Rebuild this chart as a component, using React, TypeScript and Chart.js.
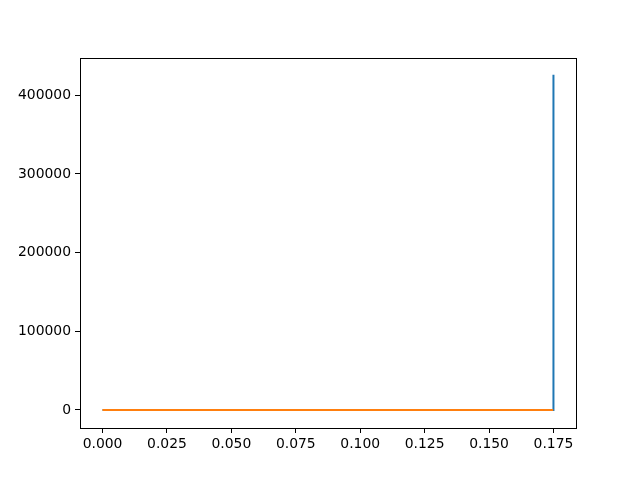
import React, { useEffect, useRef } from "react";
import { Chart, registerables } from "chart.js";

Chart.register(...registerables);

// x positions sampled along the run
const xValues = [0, 0.025, 0.05, 0.075, 0.1, 0.125, 0.15, 0.1749, 0.175];
// blue series: flat at zero, then jumps at the end
const blueValues = [0, 0, 0, 0, 0, 0, 0, 0, 426000];
// orange series: flat at zero
const orangeValues = [0, 0, 0, 0, 0, 0, 0, 0, 0];

const xTicks = [0, 0.025, 0.05, 0.075, 0.1, 0.125, 0.15, 0.175];
const yTicks = [0, 100000, 200000, 300000, 400000];

// draws the top and right spines too
const frame = {
  id: "frame",
  afterDraw(chart: any) {
    const { ctx, chartArea } = chart;
    ctx.save();
    ctx.strokeStyle = "#000";
    ctx.lineWidth = 1;
    ctx.strokeRect(
      Math.round(chartArea.left) + 0.5,
      Math.round(chartArea.top) + 0.5,
      Math.round(chartArea.right - chartArea.left),
      Math.round(chartArea.bottom - chartArea.top)
    );
    ctx.restore();
  },
};

const App = () => {
  const chartRef = useRef<HTMLCanvasElement>(null);
  const chartInstanceRef = useRef<any>(null);

  useEffect(() => {
    document.body.style.margin = "0";
    if (!chartRef.current) return;
    if (chartInstanceRef.current) chartInstanceRef.current.destroy();

    const font = { family: "DejaVu Sans", size: 13.9 };

    chartInstanceRef.current = new Chart(chartRef.current, {
      type: "line",
      data: {
        datasets: [
          {
            label: "a",
            data: xValues.map((x, i) => ({ x, y: blueValues[i] })),
            borderColor: "#1f77b4",
            borderWidth: 2,
            pointRadius: 0,
            tension: 0,
            order: 2,
          },
          {
            label: "b",
            data: xValues.map((x, i) => ({ x, y: orangeValues[i] })),
            borderColor: "#ff7f0e",
            borderWidth: 2,
            pointRadius: 0,
            tension: 0,
            order: 1,
          },
        ],
      },
      options: {
        animation: false,
        responsive: false,
        maintainAspectRatio: false,
        layout: { padding: { top: 58, right: 64, left: 0, bottom: 0 } },
        plugins: { legend: { display: false }, tooltip: { enabled: false } },
        scales: {
          x: {
            type: "linear",
            min: -0.00875,
            max: 0.18375,
            afterFit: (s: any) => {
              s.height = 52;
            },
            afterBuildTicks: (s: any) => {
              s.ticks = xTicks.map((v) => ({ value: v }));
            },
            grid: {
              drawOnChartArea: false,
              drawTicks: true,
              tickLength: 5,
              color: "#000",
            },
            border: { display: true, color: "#000" },
            ticks: {
              color: "#000",
              font,
              padding: 3,
              maxRotation: 0,
              autoSkip: false,
              callback: (v: any) => Number(v).toFixed(3),
            },
          },
          y: {
            type: "linear",
            min: -22878,
            max: 447300,
            afterFit: (s: any) => {
              s.width = 80;
            },
            afterBuildTicks: (s: any) => {
              s.ticks = yTicks.map((v) => ({ value: v }));
            },
            grid: {
              drawOnChartArea: false,
              drawTicks: true,
              tickLength: 5,
              color: "#000",
            },
            border: { display: true, color: "#000" },
            ticks: {
              color: "#000",
              font,
              padding: 4,
              autoSkip: false,
              callback: (v: any) => String(v),
            },
          },
        },
      },
      plugins: [frame],
    });

    return () => {
      if (chartInstanceRef.current) {
        chartInstanceRef.current.destroy();
        chartInstanceRef.current = null;
      }
    };
  }, []);

  return (
    <div style={{ width: 640, height: 480, background: "#fff" }}>
      <canvas ref={chartRef} width={640} height={480} />
    </div>
  );
};

export default App;
